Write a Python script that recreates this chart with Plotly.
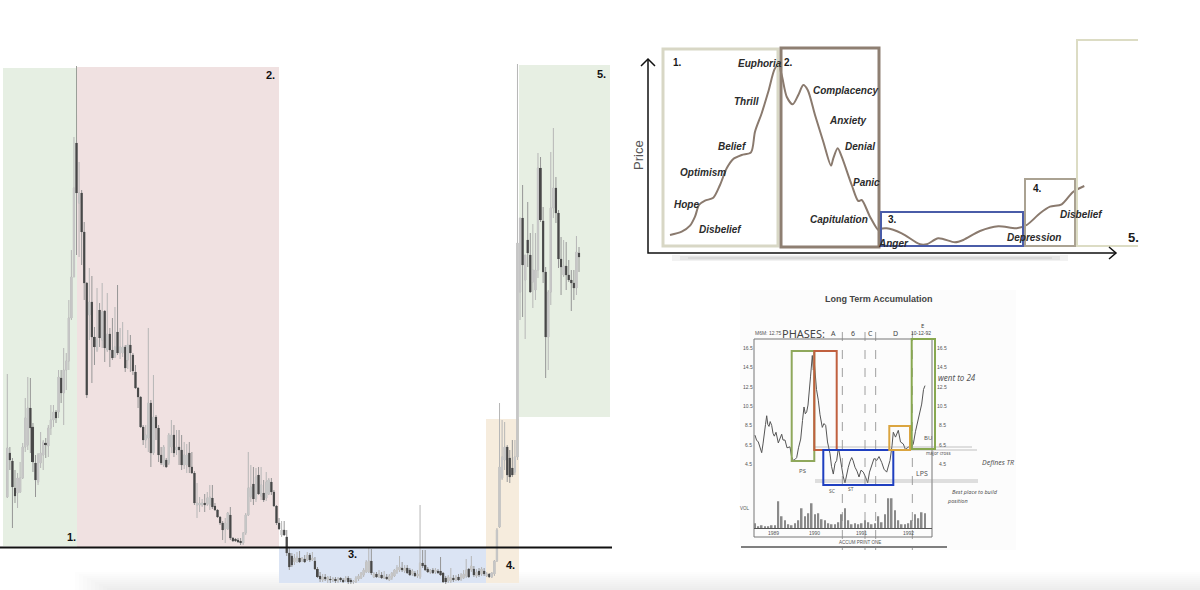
import plotly.graph_objects as go

W, H = 1200, 590

# ---------- left candlestick chart ----------
candle_open = [
 93,137,129,102,97,98,112,143,145,182, 163,127,108,127,135,147,144,162,170,178,
 178,212,197,220,229,272,313,447,387,397, 358,307,275,288,253,240,280,250,279,240,
 256,240,233,258,237,237,243,230,245,235, 218,202,193,163,150,152,187,137,173,162,
 135,125,130,127,143,155,140,143,140,125, 125,137,123,117,85,85,85,87,86,85,
 92,84,80,73,67,61,61,75,52,51, 50,49,47,57,75,93,106,91,115,94,
 97,92,96,108,98,84,67,55,60,53, 37,34,28,30,32,30,31,30,35,30,
 29,21,14,10,13,10,11,10,11,9, 12,10,10,12,10,8,8,11,12,15,
 18,18,29,13,16,13,15,12,13,10, 12,14,18,20,22,19,22,20,16,17,
 14,13,27,25,21,18,20,18,19,19, 17,12,9,9,12,10,13,11,12,14,
 21,20,21,14,19,16,19,14,16,13, 16,29,63,112,130,143,132,122,118,133,
 298,372,310,350,335,308,300,320,422,369, 318,253,298,382,402,377,331,315,324,315,
 310,307,302,337]
candle_close = [
 142,130,103,94,112,112,143,172,182,162, 128,110,135,137,148,145,162,170,178,172,
 213,197,220,229,272,313,402,397,397,358, 307,195,288,253,243,250,252,278,242,256,
 240,232,243,237,243,243,222,245,237,219, 202,193,163,150,155,187,137,173,162,135,
 127,143,123,155,155,137,143,140,125,135, 135,123,117,87,87,87,87,85,92,93,
 83,80,73,67,60,67,77,52,49,49, 48,47,57,75,102,103,91,113,96,105,
 90,108,110,98,84,67,61,60,55,37, 23,25,32,33,28,32,28,35,30,32,
 21,13,11,13,11,13,10,11,9,11, 10,8,12,8,8,9,12,14,17,20,
 28,29,17,16,13,16,12,14,11,14, 17,20,22,23,20,22,17,15,19,14,
 16,27,24,20,18,20,17,20,17,15, 8,8,13,12,10,13,10,15,16,20,
 13,24,15,18,15,21,16,16,13,17, 29,60,123,133,143,115,113,115,133,347,
 372,325,335,337,298,320,320,422,370,318, 253,298,382,402,377,331,323,324,315,310,
 307,302,338,333]
candle_high = [
 216,143,132,120,117,128,147,192,213,212, 167,135,137,158,150,152,165,185,185,180,
 220,220,242,237,290,340,453,475,428,400, 368,308,322,314,263,302,287,307,280,297,
 262,272,283,305,262,268,245,260,255,237, 225,203,194,165,165,262,190,215,175,165,
 143,145,132,157,170,165,160,160,155,148, 146,148,138,119,107,93,91,96,98,105,
 105,87,81,74,69,72,78,83,53,52, 52,52,58,77,138,125,123,122,123,123,
 110,118,112,112,100,85,72,69,69,60, 42,37,36,38,39,33,35,38,37,38,
 33,23,18,16,16,14,14,13,13,13, 13,12,14,14,12,10,14,16,18,22,
 30,42,41,18,18,20,18,19,16,16, 18,21,25,34,28,25,25,22,21,19,
 20,85,40,40,23,21,22,22,21,33, 18,14,15,22,15,15,16,17,20,31,
 22,34,24,21,22,23,22,18,17,18, 30,62,187,170,168,145,140,150,150,526,
 372,405,335,388,357,366,357,437,433,383, 323,300,438,462,413,380,353,350,348,330,
 320,320,354,343]
candle_low = [
 92,120,62,87,82,97,111,138,140,137, 118,93,105,122,120,132,133,155,163,167,
 172,187,165,200,220,270,313,335,333,325, 290,192,250,207,225,238,243,242,228,238,
 223,230,232,235,231,233,218,221,218,215, 201,182,162,145,142,138,123,135,150,128,
 125,123,122,125,137,133,135,125,120,121, 117,117,116,85,72,78,83,78,84,80,
 81,79,72,65,50,47,60,50,48,48, 47,45,45,55,74,88,85,88,95,90,
 88,89,95,95,83,65,60,53,54,34, 20,23,25,27,27,28,27,29,28,29,
 20,12,8,8,9,7,7,8,7,7, 8,7,8,6,6,6,7,9,11,13,
 17,17,15,12,12,12,11,11,10,9, 10,13,16,18,18,17,16,14,14,13,
 12,11,22,19,17,16,16,16,16,14, 7,6,7,7,8,9,9,9,11,12,
 12,18,13,12,13,14,14,13,12,12, 14,28,62,110,120,108,107,113,115,130,
 270,273,251,323,297,282,290,312,368,307, 212,220,285,372,367,322,295,313,300,308,
 279,290,295,318]

# ---------- cycle-of-emotions curve (top right) ----------
curve_time = [30,41.7,50,55,59,65,73.3,80,86.7,93.3,101.7,111,115,121.7,128.3,135,138.3,141.7,146.7,
              152.7,158.3,163.3,167.7,175,183.3,191,193.3,197.7,201.7,211.7,218.3,221.7,230,238.3,
              240,246.7,261.7,280,286.7,298.3,315,323.3,340,358.3,376.7,386.7,400,410,421.7,433.3,444.3]
curve_level = [25,28.3,34.3,43.3,55,59.3,62.3,75,91.7,101,105,107.7,128.3,146.7,168.3,191.7,194.3,185,163.3,
               155.7,165,175,170,145,118.3,94.3,101.7,111.7,103.3,75,59,60,43.3,30,
               31,31.7,26.7,15.7,15.7,21.7,17.7,20,29,33.7,31.7,35,46.7,53.3,55.7,68.3,74]

# ---------- "Long Term Accumulation" sketch (bottom right) ----------
sketch_time = [1,2.5,4.3,6,7.7,9,10.3,11.5,12.7,13.8,15,16.2,17.7,19,20.3,22,24.3,26,27.7,29,31,33,36,37.5,39.3,41,42.7,
               44.5,46.7,48.5,50,51.3,52.7,54,55,56.5,58.3,59.3,60.3,61,62.5,64.3,66,68.3,70,71.7,73.5,76,77.5,79.3,81,
               82.7,84,85,86.5,87.7,89.3,91,92.5,94.3,96,97.7,99,101,103,105,107,109.3,111.5,113.7,115.5,117.7,120,122.7,
               125,127.7,130,132.7,134.5,136,138,139.3,141.5,144.3,146.5,149.3,151.5,154.3,156.5,159.3,161.5,163.7,165.5,
               167.7,169.5,171]
sketch_price = [7.5,7.0,6.8,6.1,5.7,6.6,7.4,8.6,9.5,8.6,8.4,8.9,8.5,7.7,7.4,7.8,6.7,7.2,7.6,7.0,7.0,6.2,6.3,5.3,4.9,5.0,5.2,
                6.2,7.1,9.0,10.4,9.7,9.9,10.6,12.1,13.5,15.7,14.2,15.0,14.2,12.2,11.1,9.6,8.3,8.7,8.5,6.8,5.6,4.3,3.5,4.6,
                4.9,5.9,5.9,4.9,4.2,3.2,2.6,3.5,4.2,4.8,5.2,4.9,4.2,3.8,3.2,3.9,3.7,3.2,2.6,3.7,4.5,5.1,4.9,
                5.3,4.7,4.0,3.7,4.4,4.9,6.4,7.8,7.3,8.0,6.8,6.6,6.0,6.3,6.1,6.6,7.9,8.8,9.7,
                10.7,12.2,12.6]
volume_week = list(range(52))
volume = [5,2,3,2,2,3,3,27,12,8,4,3,5,8,20,12,15,25,14,15,9,8,5,4,4,6,14,20,8,4,5,4,5,8,6,4,5,12,6,14,42,40,18,8,4,4,5,8,14,10,16,15]
sketch_ticks = ["16.5","14.5","12.5","10.5","8.5","6.5","4.5"]
sketch_tick_values = [16.5,14.5,12.5,10.5,8.5,6.5,4.5]


def xp(px): return px / W
def yp(px): return 1 - px / H


candle_x = list(range(len(candle_open)))
body_base = [min(o, c) for o, c in zip(candle_open, candle_close)]
body_height = [abs(o - c) for o, c in zip(candle_open, candle_close)]
body_color = ["#c6c6c6" if c >= o else "#484848" for o, c in zip(candle_open, candle_close)]

fig = go.Figure()
fig.add_trace(go.Candlestick(
    x=candle_x, open=candle_open, high=candle_high, low=candle_low, close=candle_close,
    increasing=dict(line=dict(color="#b6b6b6", width=1), fillcolor="#c6c6c6"),
    decreasing=dict(line=dict(color="#969696", width=1), fillcolor="#484848"),
    whiskerwidth=0, xaxis="x", yaxis="y", hoverinfo="skip"))
# thicker candle bodies, on a twin axis pair so that they lie over the wicks
fig.add_trace(go.Bar(x=candle_x, y=body_height, base=body_base, xaxis="x5", yaxis="y5", width=0.78,
                     marker=dict(color=body_color, line_width=0), hoverinfo="skip"))
fig.add_trace(go.Scatter(x=curve_time, y=curve_level, mode="lines", xaxis="x2", yaxis="y2",
                         line=dict(color="#8a7a6e", width=2, shape="spline", smoothing=0.8), hoverinfo="skip"))
fig.add_trace(go.Bar(x=volume_week, y=volume, xaxis="x4", yaxis="y4", width=0.5,
                     marker=dict(color="#8a8a8a", line_width=0), hoverinfo="skip"))
fig.add_trace(go.Scatter(x=sketch_time, y=sketch_price, mode="lines", xaxis="x3", yaxis="y3",
                         line=dict(color="#555555", width=1), hoverinfo="skip"))

shapes = []


def rect(x0, y0, x1, y1, fill=None, line=None, width=0, layer="below", opacity=1):
    s = dict(type="rect", xref="paper", yref="paper", x0=xp(x0), x1=xp(x1), y0=yp(y0), y1=yp(y1),
             layer=layer, opacity=opacity, line=dict(width=width, color=line or "rgba(0,0,0,0)"))
    if fill:
        s["fillcolor"] = fill
    shapes.append(s)


def line(x0, y0, x1, y1, color, width=1, dash="solid", layer="above"):
    shapes.append(dict(type="line", xref="paper", yref="paper", x0=xp(x0), x1=xp(x1), y0=yp(y0), y1=yp(y1),
                       layer=layer, line=dict(color=color, width=width, dash=dash)))


def poly(points, color, width):
    d = "M " + " L ".join(f"{xp(a):.5f} {yp(b):.5f}" for a, b in points)
    shapes.append(dict(type="path", xref="paper", yref="paper", path=d, layer="above",
                       line=dict(color=color, width=width)))


# soft shadows
for k in range(9):
    rect(75 + 4 * (8 - k), 590 - 2 * k - 2, 1200, 590, fill="#000000", opacity=0.008)
for k in range(4):
    rect(672 + 8 * k, 255 + k, 1068 - 8 * k, 261 - k, fill="#000000", opacity=0.05)

# sketch page
rect(740, 290, 1016, 550, fill="#fcfcfc")

# left zones
rect(3, 68, 77, 546, fill="#e6efe3")
rect(77, 67, 279, 547, fill="#f0e1e1")
rect(279, 548, 486, 583, fill="#dbe4f4")
rect(486, 419, 519, 583, fill="#f6ecdd")
rect(519, 65, 610, 417, fill="#e7efe3")
line(76.5, 66, 76.5, 140, "#9a9f98", 1)
line(0, 547.5, 612, 547.5, "#111111", 2)

# top-right frames and axes
rect(663, 49, 778, 246, line="#d8d7c5", width=3, layer="above")
rect(781, 48, 879, 247, line="#8e7f72", width=3, layer="above")
rect(881, 212, 1023, 246, line="#4a5ca8", width=2, layer="above")
rect(1025, 179, 1075, 246, line="#aaa292", width=2, layer="above")
poly([(1138, 40), (1077, 40), (1077, 246), (1138, 246)], "#dcdcc4", 2)
poly([(648, 59), (648, 253), (1116, 253)], "#111111", 1.5)
poly([(641, 66), (648, 59), (655, 66)], "#111111", 1.5)
poly([(1109, 247), (1116, 253), (1109, 259)], "#111111", 1.5)

# sketch frame, dashes, levels
rect(754, 339, 932, 537, line="#777777", width=1)
line(754, 528.5, 932, 528.5, "#555555", 1)
for zx in (322, 390, 422, 532):
    line(735 + zx / 3, 332, 735 + zx / 3, 550, "#888888", 0.8, "dash")
line(815, 447, 972, 447, "#999999", 0.6)
line(815, 450, 977, 450, "#999999", 0.6)
line(815, 480, 978, 480, "#999999", 0.6)
line(815, 482, 978, 482, "#999999", 0.6)
line(741, 547, 947, 547, "#555555", 1.5)
rect(791.7, 351, 814.3, 461, line="#8fa85c", width=2, layer="above")
rect(814.3, 351, 836.7, 450, line="#c0603f", width=2, layer="above")
rect(823.3, 450, 893.3, 485, line="#1f3fc0", width=2, layer="above")
rect(889.3, 426, 910, 450, line="#dba540", width=2, layer="above")
rect(911.7, 339, 935, 449, line="#88a850", width=2, layer="above")

annotations = []


def ann(text, x, y, size=10, color="#222222", family="Liberation Sans", anchor="center", angle=0):
    annotations.append(dict(text=text, x=xp(x), y=yp(y), xref="paper", yref="paper", showarrow=False,
                            xanchor=anchor, yanchor="middle", textangle=angle,
                            font=dict(size=size, color=color, family=family)))


for t, x, y in [("1.", 71, 537), ("2.", 270, 75), ("3.", 352, 554), ("4.", 510, 565), ("5.", 601, 74)]:
    ann(f"<b>{t}</b>", x, y, 11, "#111111")

for t, x, y in [("Euphoria", 760, 64), ("Thrill", 746, 102), ("Belief", 732, 146), ("Optimism", 703, 172),
                ("Hope", 686, 204), ("Disbelief", 720, 229), ("Complacency", 845, 90), ("Anxiety", 848, 120),
                ("Denial", 860, 147), ("Panic", 866, 182), ("Capitulation", 839, 219), ("Anger", 893, 244),
                ("Depression", 1034, 237), ("Disbelief", 1081, 214)]:
    ann(f"<b><i>{t}</i></b>", x, y, 10, "#2b2b2b")
for t, x, y in [("1.", 678, 62), ("2.", 788, 62), ("3.", 892, 219), ("4.", 1037, 189)]:
    ann(f"<b>{t}</b>", x, y, 10, "#1a1a1a")
ann("<b>5.</b>", 1133, 237, 13, "#1a1a1a")
ann("Price", 639, 155, 13, "#555555", angle=-90)

ann("<b>Long Term Accumulation</b>", 879, 299, 9, "#444444")
hand = "Noto Sans"
ann("M6M: 12.75", 768, 333, 5, "#555555")
ann("PHASES:", 803, 333, 11, "#444444", hand)
for t, zx in [("A", 295), ("6", 355), ("C", 405), ("D", 482)]:
    ann(t, 735 + zx / 3, 333, 7, "#444444", hand)
ann("E", 922, 326, 6, "#444444", hand)
ann("10-12-92", 921, 333, 5, "#444444")
for t, v in zip(sketch_ticks, sketch_tick_values):
    py = 347.7 + (16.5 - v) * 9.72
    ann(t, 748, py, 5, "#555555")
    ann(t, 942, py, 5, "#555555")
for t, zx in [("1989", 115), ("1990", 238), ("1991", 380), ("1992", 522)]:
    ann(t, 735 + zx / 3, 533, 5, "#555555")
ann("ACCUM PRINT ONE", 860, 542, 4.5, "#555555")
ann("VOL", 745, 508, 4.5, "#555555")
ann("<i>went to 24</i>", 957, 377, 8, "#555555", hand)
ann("<i>Defines TR</i>", 998, 462, 7, "#555555", hand)
ann("<i>Best place to build</i>", 975, 492, 5.5, "#555555", hand)
ann("<i>position</i>", 957, 501, 5.5, "#555555", hand)
ann("PS", 803, 471, 6, "#555555", hand)
ann("LPS", 922, 473, 7, "#555555", hand)
ann("SC", 832, 491, 5, "#555555", hand)
ann("ST", 851, 489, 5, "#555555", hand)
ann("BU", 928, 438, 6, "#555555", hand)
ann("major cross", 938, 453, 4.5, "#555555", hand)

axis_off = dict(visible=False, fixedrange=True)
n = len(candle_open)
step = (579 - 7.3) / (n - 1)
x_left = dict(axis_off, domain=[0, xp(612)], range=[-7.3 / step, (612 - 7.3) / step])
fig.update_layout(
    width=W, height=H, margin=dict(l=0, r=0, t=0, b=0), autosize=False, barmode="overlay",
    paper_bgcolor="white", plot_bgcolor="rgba(0,0,0,0)", showlegend=False, hovermode=False,
    xaxis=dict(x_left, rangeslider=dict(visible=False)),
    yaxis=dict(axis_off, domain=[0, 1], range=[0, 590]),
    xaxis5=dict(x_left, anchor="y5"),
    yaxis5=dict(axis_off, domain=[0, 1], range=[0, 590], anchor="x5"),
    xaxis2=dict(axis_off, domain=[xp(640), xp(1120)], range=[0, 480], anchor="y2"),
    yaxis2=dict(axis_off, domain=[yp(260), yp(40)], range=[0, 220], anchor="x2"),
    xaxis3=dict(axis_off, domain=[xp(754), xp(932)], range=[0, 178], anchor="y3"),
    yaxis3=dict(axis_off, domain=[yp(537), yp(339)], range=[16.5 - 189.3 / 9.72, 16.5 + 8.7 / 9.72], anchor="x3"),
    xaxis4=dict(axis_off, domain=[xp(754), xp(932)], range=[-0.3, 53.1], anchor="y4"),
    yaxis4=dict(axis_off, domain=[yp(528.3), yp(498.3)], range=[0, 30], anchor="x4"),
    shapes=shapes, annotations=annotations,
)
fig.write_html("out.html", config={"displayModeBar": False},
               post_script="document.body.style.margin='0';")
